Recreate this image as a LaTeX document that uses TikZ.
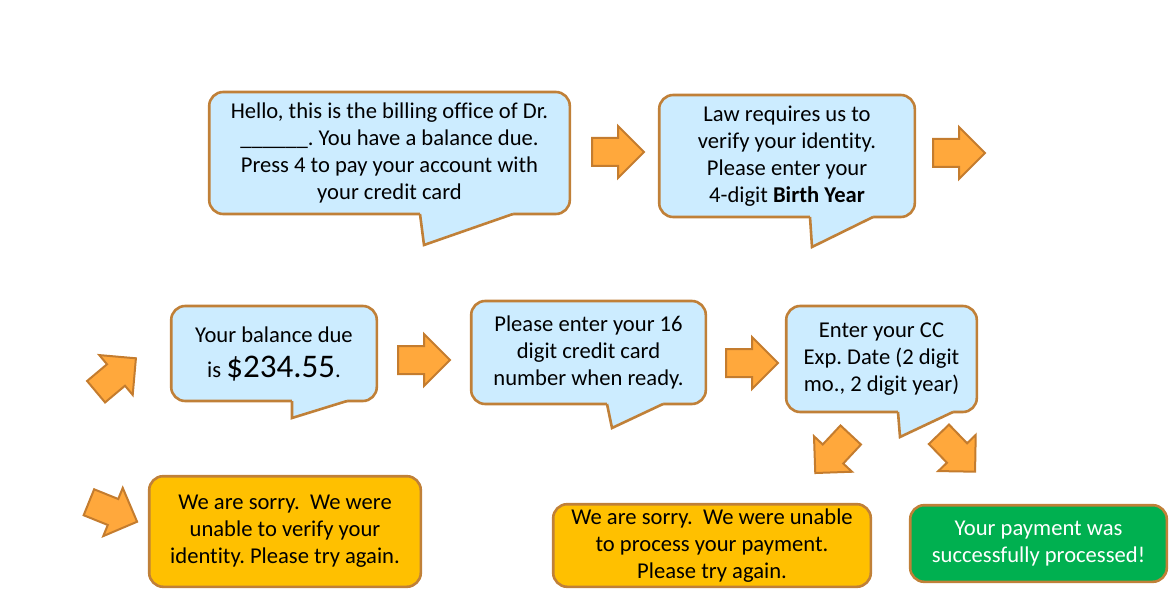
\documentclass[tikz,border=0pt]{standalone}
\usepackage{fontspec}
\setmainfont{Carlito}[Ligatures=NoCommon]
\frenchspacing

\definecolor{bubblefill}{RGB}{204,236,255}
\definecolor{edgebrown}{RGB}{192,128,56}
\definecolor{arrowfill}{RGB}{255,168,60}
\definecolor{arrowedge}{RGB}{196,124,46}
\definecolor{sorryfill}{RGB}{255,192,0}
\definecolor{okfill}{RGB}{0,176,80}

\tikzstyle{bubble} = [rectangle, rounded corners=14pt, inner sep=0pt, align=center, draw=edgebrown, fill=bubblefill, line width=2.6pt, font=\fontsize{22.6}{27}\selectfont]
\tikzstyle{sorry} = [bubble, fill=sorryfill]
\tikzstyle{done} = [bubble, fill=okfill, text=white]
\tikzstyle{tailfill} = [fill=bubblefill]
\tikzstyle{tailline} = [draw=edgebrown, line width=2.6pt, line join=miter]
\tikzstyle{blockarrow} = [draw=arrowedge, fill=arrowfill, line width=2pt, line join=miter]

% block arrow: centre x, centre y, angle
\newcommand{\flowarrow}[3]{\draw[blockarrow, shift={(#1,#2)}, rotate=#3] (-26,-14) -- (0,-14) -- (0,-26) -- (26,0) -- (0,26) -- (0,14) -- (-26,14) -- cycle;}
% bubble tail: left x, right x, bottom y, tip x, tip y
\newcommand{\bubbletail}[5]{%
\fill[tailfill] (#1,#3-3) -- (#1,#3) -- (#4,#5) -- (#2,#3) -- (#2,#3-3) -- cycle;
\draw[tailline] (#1,#3) -- (#4,#5) -- (#2,#3);}

\begin{document}
\begin{tikzpicture}[x=1pt, y=-1pt]
\useasboundingbox (0,0) rectangle (1170,604);

%speech bubbles
\node (hello) [bubble, minimum width=360.6pt, minimum height=122pt] at (389.5,153) {Hello, this is the billing office of Dr.\\ \_\_\_\_\_\_. You have a balance due.\\ Press 4 to pay your account with\\ your credit card};
\bubbletail{420}{513}{214}{424}{245}

\node (law) [bubble, minimum width=255.6pt, minimum height=122pt] at (787,156) {Law requires us to\\ verify your identity.\\ Please enter your\\ 4-digit \textbf{Birth Year}};
\bubbletail{810}{873}{217}{812}{247}

\node (balance) [bubble, minimum width=205.6pt, minimum height=95pt] at (274,353.5) {Your balance due\\[8pt] is {\fontsize{33}{33}\selectfont\$234.55}.};
\bubbletail{292}{347}{401}{292}{418}

\node (ccnum) [bubble, minimum width=234.6pt, minimum height=103pt] at (588.5,352.5) {Please enter your 16\\ digit credit card\\ number when ready.};
\bubbletail{607}{663}{404}{612}{428}

\node (expdate) [bubble, minimum width=190.6pt, minimum height=106pt] at (881.5,359) {Enter your CC\\ Exp. Date (2 digit\\ mo., 2 digit year)};
\bubbletail{898}{953}{412}{900}{437}

%result boxes
\node (noid) [sorry, minimum width=271.6pt, minimum height=110.6pt] at (285,531.5) {We are sorry.\ \ We were\\ unable to verify your\\ identity. Please try again.};
\node (nopay) [sorry, minimum width=317.6pt, minimum height=82.6pt] at (712,545.5) {We are sorry.\ \ We were unable\\ to process your payment.\\ Please try again.};
\node (paid) [done, minimum width=256.6pt, minimum height=76.6pt] at (1038.5,543.5) {Your payment was\\ successfully processed!};

%arrows
\flowarrow{618}{152}{0}
\flowarrow{959}{153}{0}
\flowarrow{116}{375}{40}
\flowarrow{424}{360}{0}
\flowarrow{752}{363}{0}
\flowarrow{833}{454}{227}
\flowarrow{957}{453}{-46}
\flowarrow{113}{512}{-22}

\end{tikzpicture}
\end{document}
